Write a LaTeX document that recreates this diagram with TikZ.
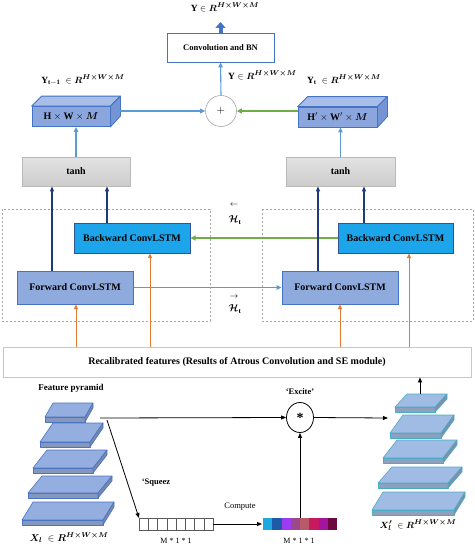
\documentclass[tikz,border=0pt]{standalone}
\usepackage{amsmath,bm}
\usepackage{fontspec}
\setmainfont{Liberation Serif}
\usetikzlibrary{arrows.meta,calc,shapes.geometric}
\definecolor{cblue}{HTML}{5B9BD5}
\definecolor{cdblue}{HTML}{4472C4}
\definecolor{cgreen}{HTML}{70AD47}
\definecolor{corange}{HTML}{E07A35}
\definecolor{cnavy}{HTML}{1F3A78}
\definecolor{cgray}{HTML}{A6A6A6}
\definecolor{fwdfill}{HTML}{8FAADC}
\definecolor{bwdfill}{HTML}{1CA5EA}
\definecolor{bwdedge}{HTML}{2F5597}
\definecolor{cubfront}{HTML}{8AA6DC}
\definecolor{cubtop}{HTML}{A8BEE9}
\definecolor{cubside}{HTML}{7594D4}
\definecolor{pyrtop}{HTML}{95AEE0}
\definecolor{pyredge}{HTML}{4A74C6}
\definecolor{teatop}{HTML}{A0BCE4}
\definecolor{teaedge}{HTML}{4BACC6}
\definecolor{cc1}{HTML}{1FA8E0}
\definecolor{cc2}{HTML}{1E5AA8}
\definecolor{cc3}{HTML}{9B3CF5}
\definecolor{cc4}{HTML}{9A4A8A}
\definecolor{cc5}{HTML}{B85A6A}
\definecolor{cc6}{HTML}{C8185E}
\definecolor{cc7}{HTML}{A2159E}
\definecolor{cc8}{HTML}{6A0A3E}
\newcommand\myslab[7]{%
  \filldraw[fill=#6,draw=#7,line width=0.6pt,line join=round] (#1,#2) -- ++(#3,0) -- ++(#4,-#5) -- ++(-#3,0) -- cycle;
  \filldraw[fill=#6!80!black!90,draw=#7,line width=0.6pt,line join=round] (#1,#2) rectangle ++(#3,5);
  \filldraw[fill=#6!70!black!90,draw=#7,line width=0.6pt,line join=round] ({#1+#3},#2) -- ++(#4,-#5) -- ++(0,5) -- ++(-#4,#5) -- cycle;
}
\begin{document}
\begin{tikzpicture}[x=1pt,y=-1pt,
  mlbl/.style={font=\fontsize{9.5}{11}\selectfont, inner sep=0},
  cubefront/.style={draw=cdblue, fill=cubfront, line width=0.8pt, minimum height=20pt, inner sep=0, font=\fontsize{10}{12}\selectfont\bfseries},
  tanhbox/.style={draw=gray!55, top color=gray!22, bottom color=gray!40, line width=0.8pt, minimum width=108pt, minimum height=29pt, inner sep=0, font=\fontsize{10}{12}\selectfont\bfseries},
  fwdbox/.style={draw=cdblue, fill=fwdfill, line width=1pt, minimum width=116pt, minimum height=33pt, inner sep=0, font=\fontsize{10}{12}\selectfont\bfseries},
  bwdbox/.style={draw=bwdedge, fill=bwdfill, line width=1pt, minimum width=116pt, minimum height=30pt, inner sep=0, font=\fontsize{10}{12}\selectfont\bfseries},
  frame/.style={draw=cgray, line width=0.6pt, dash pattern=on 2pt off 2pt},
  bluearr/.style={draw=cblue, line width=1.1pt, -{Triangle[length=5pt,width=4.5pt]}},
  greenarr/.style={draw=cgreen, line width=1.4pt, -{Triangle[length=5pt,width=5pt]}},
  orangearr/.style={draw=corange, line width=1pt, -{Triangle[length=4.5pt,width=4pt]}},
  navyarr/.style={draw=cnavy, line width=1.1pt, -{Triangle[length=5pt,width=4pt]}},
  blackarr/.style={draw=black, line width=0.8pt, -{Triangle[length=5pt,width=4pt]}},
  ecell/.style={draw=gray!70!black, fill=white, line width=0.5pt, minimum width=9.25pt, minimum height=12pt, inner sep=0, outer sep=0},
  ccell/.style={draw=none, minimum width=9.25pt, minimum height=12pt, inner sep=0, outer sep=0},
  small/.style={font=\fontsize{8.5}{10}\selectfont, inner sep=0}
]
\useasboundingbox (0,0) rectangle (474,551);

% dashed group frames
\draw[frame] (2,209) rectangle (210,321);
\draw[frame] (262,209) rectangle (473,321);

% top part
\node[mlbl] (ytop) at (225,7) {$\mathbf{Y}\in\bm{R}^{\bm{H\times W\times M}}$};
\node[draw=cdblue, fill=white, line width=0.9pt, minimum width=107pt, minimum height=29pt, inner sep=0, font=\fontsize{8.5}{10}\selectfont\bfseries] (conv) at (220.5,47.5) {Convolution and BN};
\coordinate (ta) at (220.5,22);
\draw[draw=cdblue, line width=4pt, -{Triangle[length=6pt,width=10pt]}] (conv.north) -- (ta);
\node[draw=cgray, fill=white, circle, minimum size=31pt, inner sep=0, line width=0.6pt, font=\fontsize{11}{12}\selectfont] (plus) at (221,111) {$+$};
\node[mlbl, anchor=west] (ymid) at (228,75) {$\mathbf{Y}\in\bm{R}^{\bm{H\times W\times M}}$};
\draw[bluearr] (plus.north) -- (conv.south);

% cuboids
\node[cubefront, minimum width=78pt] (cubL) at (71,116.5) {$\mathbf{H\times W}\times\bm{M}$};
\filldraw[fill=cubtop, draw=cdblue, line width=0.8pt, line join=round] (cubL.north west) -- ++(10,-10) -- ($(cubL.north east)+(10,-10)$) -- (cubL.north east) -- cycle;
\filldraw[fill=cubside, draw=cdblue, line width=0.8pt, line join=round] (cubL.north east) -- ++(10,-10) -- ++(0,20) -- (cubL.south east) -- cycle;
\coordinate (cubLr) at ($(cubL.east)+(10,-6)$);
\node[mlbl] (yl) at (83,80) {$\mathbf{Y_{t-1}}\;\in\bm{R}^{\bm{H\times W\times M}}$};

\node[cubefront, minimum width=79pt] (cubR) at (337.5,117) {$\mathbf{H'\times W'}\times\bm{M}$};
\filldraw[fill=cubtop, draw=cdblue, line width=0.8pt, line join=round] (cubR.north west) -- ++(10,-10) -- ($(cubR.north east)+(10,-10)$) -- (cubR.north east) -- cycle;
\filldraw[fill=cubside, draw=cdblue, line width=0.8pt, line join=round] (cubR.north east) -- ++(10,-10) -- ++(0,20) -- (cubR.south east) -- cycle;
\node[mlbl] (yr) at (344,80) {$\mathbf{Y_{t}}\;\in\bm{R}^{\bm{H\times W\times M}}$};

\draw[bluearr] (cubLr |- plus) -- (plus.west);
\draw[greenarr] (cubR.west |- plus) -- (plus.east);

% tanh
\node[tanhbox] (tanhL) at (76,171.5) {tanh};
\node[tanhbox, minimum width=109pt] (tanhR) at (340.5,171.5) {tanh};
\draw[bluearr] (tanhL.north) -- (tanhL.north |- cubL.south);
\draw[bluearr] (tanhR.north) -- (tanhR.north |- cubR.south);

% ConvLSTM blocks
\node[bwdbox] (bwdL) at (132,238) {Backward ConvLSTM};
\node[bwdbox, minimum width=115pt] (bwdR) at (395.5,238) {Backward ConvLSTM};
\node[fwdbox] (fwdL) at (75,287.5) {Forward ConvLSTM};
\node[fwdbox] (fwdR) at (340,287.5) {Forward ConvLSTM};

\draw[greenarr] (bwdR.west) -- (bwdL.east);
\draw[bluearr] (fwdL.east) -- (fwdR.west);
\node[inner sep=0, font=\fontsize{8}{9}\selectfont] (hba) at (234,204.5) {$\leftarrow$};
\node[inner sep=0, font=\fontsize{10}{12}\selectfont] (hb) at (235,220) {$\bm{\mathcal{H}}_{\mathbf{t}}$};
\node[inner sep=0, font=\fontsize{8}{9}\selectfont] (hfa) at (234,296.5) {$\rightarrow$};
\node[inner sep=0, font=\fontsize{10}{12}\selectfont] (hf) at (235,309) {$\bm{\mathcal{H}}_{\mathbf{t}}$};

% navy lines
\coordinate (nL1) at (52,0);
\coordinate (nL2) at (107,0);
\coordinate (nR1) at (318,0);
\coordinate (nR2) at (364,0);
\draw[navyarr] (nL1 |- fwdL.north) -- (nL1 |- tanhL.south);
\draw[navyarr] (nL2 |- bwdL.north) -- (nL2 |- tanhL.south);
\draw[navyarr] (nR1 |- fwdR.north) -- (nR1 |- tanhR.south);
\draw[navyarr] (nR2 |- bwdR.north) -- (nR2 |- tanhR.south);

% recalibrated
\node[draw=gray!45, fill=white, line width=0.8pt, minimum width=468pt, minimum height=30pt, inner sep=0, font=\fontsize{10}{12}\selectfont\bfseries] (recal) at (237,362) {Recalibrated features (Results of Atrous Convolution and SE module)};
\coordinate (o1) at (76,0);
\coordinate (o2) at (150,0);
\coordinate (o3) at (340,0);
\coordinate (o4) at (409,0);
\draw[orangearr] (o1 |- recal.north) -- (o1 |- fwdL.south);
\draw[orangearr] (o2 |- recal.north) -- (o2 |- bwdL.south);
\draw[orangearr] (o3 |- recal.north) -- (o3 |- fwdR.south);
\draw[orangearr] (o4 |- recal.north) -- (o4 |- bwdR.south);

% left pyramid
\node[inner sep=0, font=\fontsize{9}{11}\selectfont\bfseries] (fp) at (71,388) {Feature pyramid};
\myslab{22}{520}{81}{11}{18}{pyrtop}{pyredge}
\myslab{28}{493}{70}{14}{17}{pyrtop}{pyredge}
\myslab{33}{468}{60}{14}{18}{pyrtop}{pyredge}
\myslab{40}{442}{50}{13}{19}{pyrtop}{pyredge}
\myslab{45}{417}{40}{8}{14}{pyrtop}{pyredge}
\node[mlbl, font=\fontsize{10}{12}\selectfont] (xl) at (69,538) {$\bm{X_l}\;\in\bm{R}^{\bm{H\times W\times M}}$};

% right pyramid
\myslab{372}{510}{82}{11}{18}{teatop}{teaedge}
\myslab{378}{483}{70}{14}{16}{teatop}{teaedge}
\myslab{383}{458}{60}{14}{18}{teatop}{teaedge}
\myslab{390}{433}{51}{13}{18}{teatop}{teaedge}
\myslab{395}{407}{40}{12}{13}{teatop}{teaedge}
\node[mlbl, font=\fontsize{9.5}{11}\selectfont] (xr) at (418,525) {$\bm{X'_l}\;\in\bm{R}^{\bm{H\times W\times M}}$};

% SE part
\node[draw=black, ellipse, minimum width=27pt, minimum height=30pt, inner sep=0, line width=0.8pt, font=\fontsize{14}{14}\selectfont\bfseries] (ex) at (300,417.5) {*};
\node[inner sep=0, font=\fontsize{8.5}{10}\selectfont\bfseries] (exl) at (300,392) {‘Excite’};
\coordinate (pyrout) at (100,418);
\coordinate (pyrin) at (388,418);
\coordinate (sqs) at (107,420);
\coordinate (rup) at (420,394);
\draw[blackarr] (pyrout) -- (ex.west);
\draw[blackarr] (ex.east) -- (pyrin);
\draw[blackarr] (rup) -- (rup |- recal.south);

\foreach \i in {1,...,8} {
  \node[ecell] (e\i) at ({139+4.625+(\i-1)*9.25},524) {};
}
\foreach \i/\c in {1/cc1,2/cc2,3/cc3,4/cc4,5/cc5,6/cc6,7/cc7,8/cc8} {
  \node[ccell, fill=\c] (c\i) at ({263+4.625+(\i-1)*9.25},524) {};
}
\draw[blackarr] (sqs) -- (e1.north west);
\node[inner sep=0, font=\fontsize{8.5}{10}\selectfont\bfseries] (sqz) at (156,483) {‘Squeez};
\node[small] (comp) at (240,507) {Compute};
\draw[blackarr] (e8.east) -- ($(c1.west)+(-1,0)$);
\draw[blackarr] (ex |- c4.north) -- (ex.south);
\node[small, font=\fontsize{8}{10}\selectfont] (m1) at (176,540.5) {M * 1 * 1};
\node[small, font=\fontsize{8}{10}\selectfont] (m2) at (299,540.5) {M * 1 * 1};
\end{tikzpicture}
\end{document}
